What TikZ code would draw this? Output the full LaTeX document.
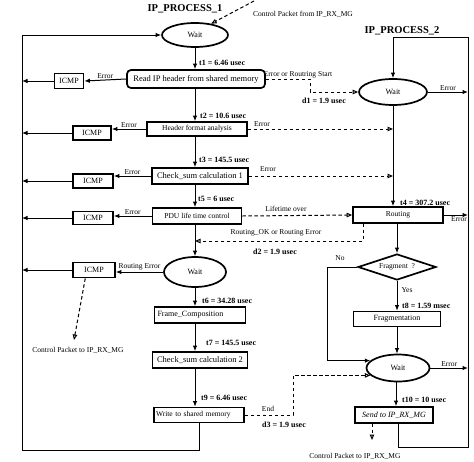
\documentclass[tikz,border=0pt]{standalone}
\usepackage{fontspec}
\setmainfont{Liberation Serif}
\usetikzlibrary{arrows.meta,shapes.geometric,calc}
\begin{document}
\begin{tikzpicture}[x=1pt,y=-1pt,
  every node/.style={font=\fontsize{8}{9}\selectfont},
  proc/.style={draw,line width=1.7pt,inner sep=1pt,font=\fontsize{8}{9}\selectfont},
  waitst/.style={draw,ellipse,line width=1.7pt,inner sep=0pt,font=\fontsize{8}{9}\selectfont},
  flow/.style={line width=1pt,-{Latex[length=5.5pt,width=4.5pt]}},
  dflow/.style={line width=1pt,dash pattern=on 3.5pt off 2.5pt,-{Triangle[open,length=5.5pt,width=4.5pt]}},
  lbl/.style={font=\fontsize{7.5}{8}\selectfont,inner sep=1pt},
  tlbl/.style={font=\bfseries\fontsize{8}{9}\selectfont,inner sep=1pt},
  ttl/.style={font=\bfseries\fontsize{10.5}{12}\selectfont},
  f75/.style={font=\fontsize{7.5}{8}\selectfont},
  f85/.style={font=\fontsize{8.5}{9}\selectfont},
]
\useasboundingbox[fill=white] (0,0) rectangle (474,461);

% titles
\node[ttl] (title1) at (185,9) {IP\_PROCESS\_1};
\node[ttl] (title2) at (402,31) {IP\_PROCESS\_2};

% axis helpers
\coordinate (ax) at (195,0);
\coordinate (lb) at (22,450);
\coordinate (lt) at (22,35);
\coordinate (rb) at (468,447);
\coordinate (rt0) at (468,37);

% ---------------- process 1 ----------------
\node[waitst,minimum width=66pt,minimum height=24pt] (w1) at (195,35) {Wait};
\node[proc,f85,rounded corners=4pt,minimum width=138pt,minimum height=18pt] (rd) at (196,79) {Read IP header from shared memory};
\node[proc,minimum width=29pt,minimum height=15pt] (icmp1) at (69,81) {ICMP};
\node[proc,f75,minimum width=100pt,minimum height=14pt] (hfa) at (197,129) {Header format analysis};
\node[proc,minimum width=38pt,minimum height=14pt] (icmp2) at (92,133) {ICMP};
\node[proc,f85,minimum width=96pt,minimum height=16pt] (cs1) at (200,176) {Check\_sum calculation 1};
\node[proc,minimum width=40pt,minimum height=14pt] (icmp3) at (93,181) {ICMP};
\node[proc,f75,minimum width=89pt,minimum height=16pt] (pdu) at (197,216) {PDU life time control};
\node[proc,minimum width=40pt,minimum height=13pt] (icmp4) at (93,218) {ICMP};
\node[waitst,minimum width=62pt,minimum height=30pt] (w4) at (195,272) {Wait};
\node[proc,minimum width=42pt,minimum height=15pt] (icmp5) at (94,270) {ICMP};
\node[proc,minimum width=91pt,minimum height=16pt,text width=85pt,align=left] (fc) at (200,315) {Frame\_Composition};
\node[proc,f85,minimum width=95pt,minimum height=16pt] (cs2) at (200,360) {Check\_sum calculation 2};
\node[proc,f75,minimum width=90pt,minimum height=15pt,text width=86pt,align=left] (wsm) at (199,415) {Write to shared memory};

% main vertical flow 1
\draw[flow] (w1.south) -- (rd.north -| ax);
\draw[flow] (rd.south -| ax) -- (hfa.north -| ax);
\draw[flow] (hfa.south -| ax) -- (cs1.north -| ax);
\draw[flow] (cs1.south -| ax) -- (pdu.north -| ax);
\draw[flow] (pdu.south -| ax) -- (w4.north);
\draw[flow] (w4.south) -- (fc.north -| ax);
\draw[flow] (fc.south -| ax) -- (cs2.north -| ax);
\draw[flow] (cs2.south -| ax) -- (wsm.north -| ax);

\node[tlbl,anchor=west] (t1) at (198,63) {t1 = 6.46 usec};
\node[tlbl,anchor=west] (t2) at (199,116) {t2 = 10.6 usec};
\node[tlbl,anchor=west] (t3) at (198,160) {t3 = 145.5 usec};
\node[tlbl,anchor=west] (t5) at (197,199) {t5 = 6 usec};
\node[tlbl,anchor=west] (t6) at (201,301) {t6 = 34.28 usec};
\node[tlbl,anchor=west] (t7) at (205,343) {t7 = 145.5 usec};
\node[tlbl,anchor=west] (t9) at (200,398) {t9 = 6.46 usec};

% left loop
\draw[flow] (wsm.south) |- (lb) -- (lt) -- (w1.west);

% errors to ICMP
\draw[flow] (rd.west) -- (icmp1.east) node[lbl,midway,above] (e1) {Error};
\draw[flow] (icmp1.west) -- (icmp1.west -| lb);
\draw[flow] (hfa.west) -- (hfa.west -| icmp2.east) node[lbl,midway,above] (e2) {Error};
\draw[flow] (icmp2.west) -- (icmp2.west -| lb);
\draw[flow] (cs1.west) -- (cs1.west -| icmp3.east) node[lbl,midway,above] (e3) {Error};
\draw[flow] (icmp3.west) -- (icmp3.west -| lb);
\draw[flow] (pdu.west) -- (pdu.west -| icmp4.east) node[lbl,midway,above] (e4) {Error};
\draw[flow] (icmp4.west) -- (icmp4.west -| lb);
\draw[flow] (w4.west) -- (w4.west -| icmp5.east) node[lbl,midway,above] (e5) {Routing Error};
\draw[flow] (icmp5.west) -- (icmp5.west -| lb);

% control packet in / out
\coordinate (cpf) at (254,1);
\draw[dflow] (cpf) -- (w1.35);
\node[lbl] (cpfl) at (303,14) {Control Packet from IP\_RX\_MG};
\coordinate (cpo1) at (74,340);
\draw[dflow] ($(icmp5.south west)!0.3!(icmp5.south east)$) -- (cpo1);
\node[lbl] (cpo1l) at (78,350) {Control Packet to IP\_RX\_MG};

% ---------------- process 2 ----------------
\node[waitst,minimum width=68pt,minimum height=26pt] (w2) at (393,92) {Wait};
\node[proc,f75,minimum width=90pt,minimum height=16pt] (rt) at (398,215) {Routing};
\node[draw,diamond,aspect=3,line width=1.7pt,inner sep=0pt,minimum width=78pt,minimum height=26pt,font=\fontsize{7.5}{8}\selectfont] (frag) at (397,267) {Fragment\ \ ?};
\node[proc,minimum width=87pt,minimum height=15pt] (fr) at (397,319) {Fragmentation};
\node[waitst,minimum width=63pt,minimum height=27pt] (w3) at (398,368) {Wait};
\node[proc,minimum width=78pt,minimum height=16pt,font=\itshape\fontsize{8}{9}\selectfont] (snd) at (394,415) {Send to IP\_RX\_MG};

\draw[flow] (w2.south) -- (rt.north -| w2.south);
\draw[flow] (rt.south -| frag.north) -- (frag.north);
\draw[flow] (frag.south) -- (fr.north -| frag.south);
\node[lbl] (yes) at (407,290) {Yes};
\draw[flow] (fr.south -| frag.south) -- (w3.north -| frag.south);
\draw[flow] (w3.south -| 396,0) -- (snd.north -| 396,0);
\node[tlbl,anchor=west] (t4) at (399,203) {t4 = 307.2 usec};
\node[tlbl,anchor=west] (t8) at (401,306) {t8 = 1.59 msec};
\node[tlbl,anchor=west] (t10) at (401,400) {t10 = 10 usec};

% right loop
\draw[flow] (snd.south -| 398,0) |- (rb) -- (rt0) -| (w2.north);

% errors to the right line
\draw[flow] (w2.east) -- (w2.east -| rb) node[lbl,midway,above] (e6) {Error};
\draw[flow] (rt.east) -- (rt.east -| rb) node[lbl,midway,below,xshift=3pt] (e7) {Error};
\draw[flow] (w3.east) -- (w3.east -| rb) node[lbl,midway,above] (e8) {Error};

% No path
\coordinate (nox) at (327,0);
\draw[flow] (frag.west) -- (frag.west -| nox) |- (w3.165);
\node[lbl] (no) at (340,258) {No};

% dashed messages
\coordinate (d1x) at (310,0);
\draw[dflow] (rd.east) -- (rd.east -| d1x) |- (w2.west);
\node[lbl] (d1l) at (298,75) {Error or Routring Start};
\node[tlbl] (d1) at (324,101) {d1 = 1.9 usec};

\draw[dflow] (hfa.east) -- (hfa.east -| w2.south);
\node[lbl] (e9) at (262,124) {Error};
\draw[dflow] (cs1.east) -- (cs1.east -| w2.south);
\node[lbl] (e10) at (268,169) {Error};

\draw[dflow] (pdu.east) -- (rt.west);
\node[lbl] (lo) at (286,209) {Lifetime over};

\coordinate (d2c) at (363,241);
\draw[dflow] (rt.south -| d2c) -- (d2c) -- (d2c -| ax);
\node[lbl] (d2l) at (276,233) {Routing\_OK or Routing Error};
\node[tlbl] (d2) at (275,252) {d2 = 1.9 usec};

\coordinate (d3x) at (293,0);
\draw[dflow] (wsm.east) -- (wsm.east -| d3x) |- (w3.195);
\node[lbl] (end) at (268,409) {End};
\node[tlbl] (d3) at (284,425) {d3 = 1.9 usec};

\coordinate (cpo2) at (372,440);
\draw[dflow] (snd.south -| cpo2) -- (cpo2);
\node[lbl] (cpo2l) at (355,456) {Control Packet to IP\_RX\_MG};

\end{tikzpicture}
\end{document}
